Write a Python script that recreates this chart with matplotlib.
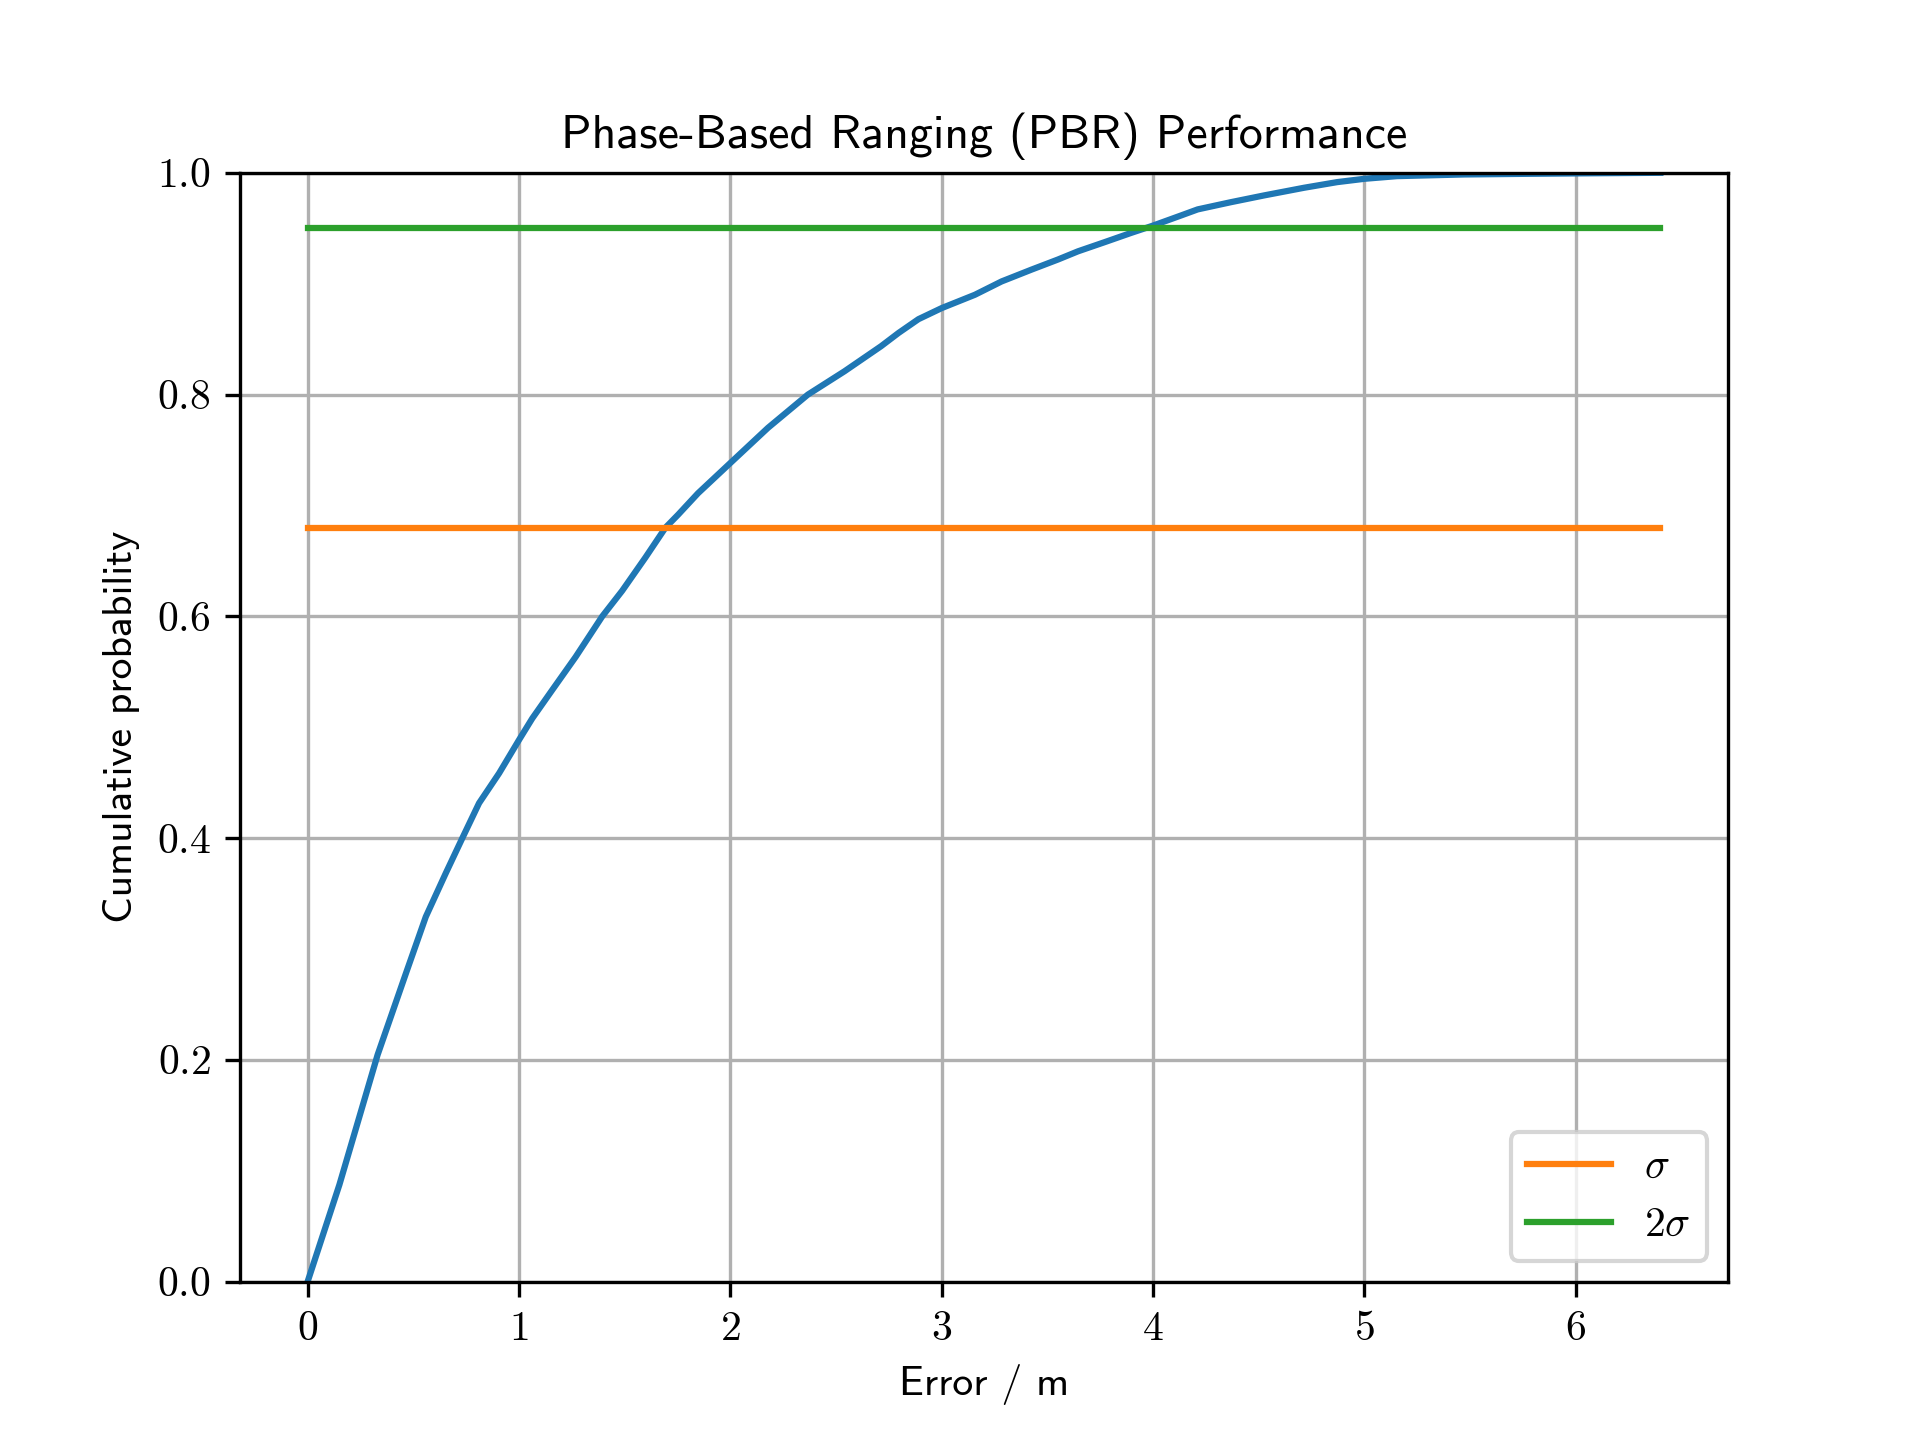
import matplotlib
matplotlib.use("Agg")
import matplotlib.pyplot as plt
import numpy as np

error_m = [0.0, 0.150, 0.331, 0.465, 0.559, 0.654, 0.732,
           0.811, 0.906, 1.0, 1.063, 1.157, 1.268, 1.394, 1.488, 1.598, 1.693,
           1.753, 1.847, 2.0, 2.178, 2.367, 2.54, 2.713, 2.796, 2.89, 3.0,
           3.157, 3.283, 3.425, 3.55, 3.645, 3.77, 3.896, 4.0, 4.132, 4.211,
           4.368, 4.525, 4.714, 4.871, 5.0, 5.154, 5.47, 5.78, 6.1, 6.4]
cum_prob = [0.0, 0.0872, 0.2045, 0.278, 0.329, 0.3685,
            0.400, 0.4315, 0.4585, 0.4885, 0.508, 0.5335, 0.5634, 0.600, 0.623,
            0.653, 0.680, 0.6917, 0.711, 0.7383, 0.770, 0.800, 0.821, 0.8436,
            0.8556, 0.868, 0.878, 0.890, 0.902, 0.9127, 0.9218, 0.9292, 0.9374,
            0.9458, 0.9524, 0.9615, 0.967, 0.9735, 0.9796, 0.9865, 0.9916,
            0.9946, 0.997, 0.9985, 0.9991, 0.9996, 1.0]
sigma_level = 0.68
two_sigma_level = 0.95
line_x = [0.0, 6.4]
x_ticks = [0, 1, 2, 3, 4, 5, 6]
y_ticks = [0.0, 0.2, 0.4, 0.6, 0.8, 1.0]

plt.rcParams['mathtext.fontset'] = 'cm'
plt.rcParams['axes.formatter.use_mathtext'] = True
plt.rcParams['font.family'] = ['cmss10', 'DejaVu Sans']
plt.rcParams['axes.unicode_minus'] = False

fig, ax = plt.subplots(figsize=(6.4, 4.8), dpi=300)
ax.plot(error_m, cum_prob, color='#1f77b4', lw=1.5)
ax.plot(line_x, [sigma_level, sigma_level], color='#ff7f0e', lw=1.5, label=r'$\sigma$')
ax.plot(line_x, [two_sigma_level, two_sigma_level], color='#2ca02c', lw=1.5, label=r'$2\sigma$')
ax.set_ylim(0, 1)
ax.grid(True)
ax.set_xticks(x_ticks)
ax.set_yticks(y_ticks)
ax.set_xticklabels([r'$%d$' % v for v in x_ticks])
ax.set_yticklabels([r'$%.1f$' % v for v in y_ticks])
ax.set_xlabel('Error / m')
ax.set_ylabel('Cumulative probability')
ax.set_title('Phase-Based Ranging (PBR) Performance', fontsize=11.5)
ax.legend(loc='lower right')
fig.savefig('out.png', dpi=300)
